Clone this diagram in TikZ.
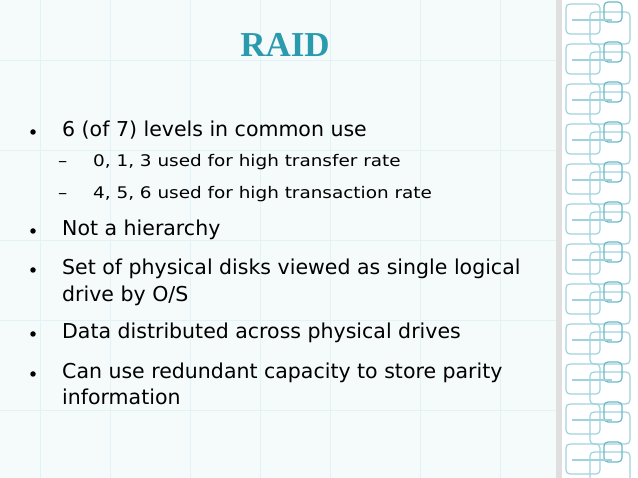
\documentclass[tikz,border=0pt]{standalone}
\usepackage{fontspec}
\setmainfont{DejaVu Sans}
\newfontfamily\subfont[FakeStretch=1.15]{DejaVu Sans}
\newfontfamily\titlefont{Liberation Serif}
\definecolor{teal1}{HTML}{2A9BAE}
\definecolor{teal2}{HTML}{9FD3DD}
\begin{document}
\begin{tikzpicture}[x=1pt,y=-1pt,
  bl/.style={anchor=base west,inner sep=0,font=\fontsize{20.5}{24}\selectfont},
  sb/.style={anchor=base west,inner sep=0,font=\subfont\fontsize{16}{19}\selectfont},
  dot/.style={circle,fill=black,inner sep=0,minimum size=5.5pt},
  deco/.style={draw=teal2,line width=1.2pt,rounded corners=4pt}]
\useasboundingbox (0,0) rectangle (638,478);
\fill[white!96!teal] (0,0) rectangle (638,478);
\foreach \x in {40,110,190,260,330,420,500}{\draw[teal2!30,line width=0.6pt] (\x,0)--(\x,478);}
\foreach \y in {60,150,240,320,410}{\draw[teal2!30,line width=0.6pt] (0,\y)--(560,\y);}
% right band
\fill[white] (562,0) rectangle (638,478);
\fill[gray!25] (556,0) rectangle (562,478);
\foreach \y in {0,40,...,440}{
  \draw[deco] (566,\y+4) rectangle (600,\y+34);
  \draw[deco] (590,\y+12) rectangle (630,\y+44);
  \draw[deco,teal1!70] (604,\y+2) rectangle (622,\y+22);
  \draw[deco] (572,\y+20) -- (612,\y+20);
}
\node[anchor=base,font=\titlefont\bfseries\fontsize{35}{38}\selectfont,text=teal1] (t) at (285,57) {RAID};
\node[dot] (b1) at (33,132) {}; \node[bl] (l1) at (62,137) {6 (of 7) levels in common use};
\node[sb] (d1) at (58,167) {–}; \node[sb] (s1) at (93,167) {0, 1, 3 used for high transfer rate};
\node[sb] (d2) at (58,199) {–}; \node[sb] (s2) at (93,199) {4, 5, 6 used for high transaction rate};
\node[dot] (b2) at (33,231) {}; \node[bl] (l2) at (62,236) {Not a hierarchy};
\node[dot] (b3) at (33,270) {}; \node[bl] (l3) at (62,275) {Set of physical disks viewed as single logical};
\node[bl] (l3b) at (62,302) {drive by O/S};
\node[dot] (b4) at (33,334) {}; \node[bl] (l4) at (62,339) {Data distributed across physical drives};
\node[dot] (b5) at (33,374) {}; \node[bl] (l5) at (62,379) {Can use redundant capacity to store parity};
\node[bl] (l5b) at (62,405) {information};
\end{tikzpicture}
\end{document}
